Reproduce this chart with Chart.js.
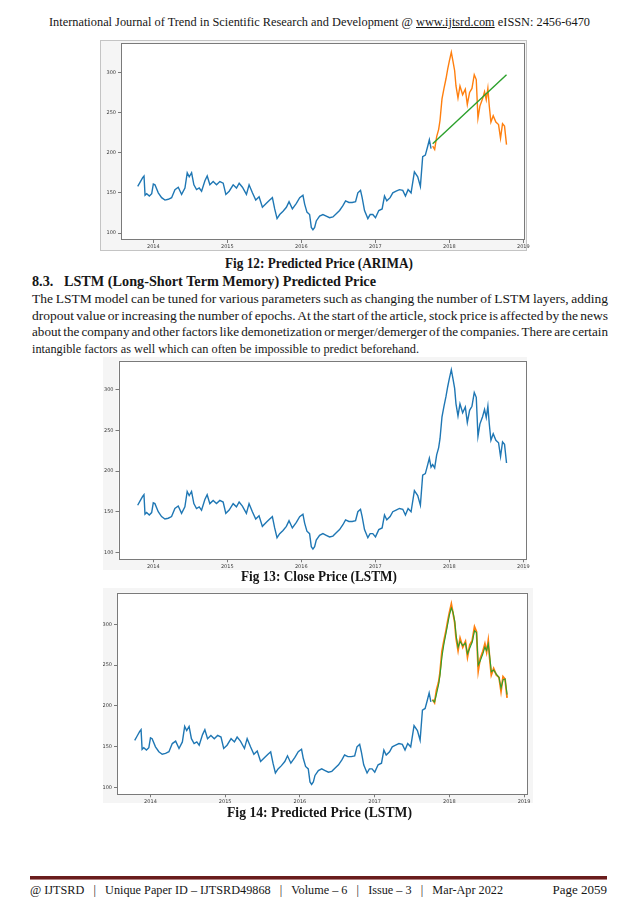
<!DOCTYPE html>
<html><head><meta charset="utf-8">
<script src="https://cdn.jsdelivr.net/npm/chart.js@4.4.1/dist/chart.umd.min.js"></script>
<style>
html,body{margin:0;padding:0;background:#fff;}
body{width:638px;height:903px;position:relative;overflow:hidden;font-family:"Liberation Serif","Times New Roman",serif;color:#161616;}
.t{position:absolute;white-space:nowrap;}
.t span{display:inline-block;transform-origin:0 50%;}
.fig{position:absolute;background:#f5f5f5;overflow:visible;}
.fig canvas{position:absolute;left:0;top:0;}
</style></head><body>

<div class="t" style="left:49px;top:14px;font-size:12.5px;line-height:16px" data-w="541" data-mode="scale"><span>International Journal of Trend in Scientific Research and Development @ <u>www.ijtsrd.com</u> eISSN: 2456-6470</span></div>

<div class="fig" style="left:101px;top:41px;width:425px;height:209px;box-shadow:0 0 0 1px #c4c4c4"><canvas id="c1" width="437" height="209"></canvas></div>

<div class="t" style="left:225px;top:254px;font-size:14.5px;line-height:18px;font-weight:bold" data-w="188" data-mode="scale"><span>Fig 12: Predicted Price (ARIMA)</span></div>

<div class="t" style="left:32px;top:273px;font-size:14px;line-height:18px;font-weight:bold" data-w="344" data-mode="scale"><span>8.3.&nbsp;&nbsp;&nbsp;LSTM (Long-Short Term Memory) Predicted Price</span></div>

<div class="t" style="left:32px;top:290px;font-size:13.5px;line-height:17px" data-w="576" data-mode="justify"><span>The LSTM model can be tuned for various parameters such as changing the number of LSTM layers, adding</span></div>
<div class="t" style="left:32px;top:306.5px;font-size:13.5px;line-height:17px" data-w="576" data-mode="justify"><span>dropout value or increasing the number of epochs. At the start of the article, stock price is affected by the news</span></div>
<div class="t" style="left:32px;top:323px;font-size:13.5px;line-height:17px" data-w="576" data-mode="justify"><span>about the company and other factors like demonetization or merger/demerger of the companies. There are certain</span></div>
<div class="t" style="left:32px;top:339.5px;font-size:13.5px;line-height:17px" data-w="387" data-mode="scale"><span>intangible factors as well which can often be impossible to predict beforehand.</span></div>

<div class="fig" style="left:103px;top:357px;width:424px;height:213px"><canvas id="c2" width="436" height="213"></canvas></div>

<div class="t" style="left:241px;top:567px;font-size:14.5px;line-height:18px;font-weight:bold" data-w="156" data-mode="scale"><span>Fig 13: Close Price (LSTM)</span></div>

<div class="fig" style="left:103px;top:588px;width:430px;height:215px"><canvas id="c3" width="442" height="215"></canvas></div>

<div class="t" style="left:227px;top:803px;font-size:14.5px;line-height:18px;font-weight:bold" data-w="185" data-mode="scale"><span>Fig 14: Predicted Price (LSTM)</span></div>

<div style="position:absolute;left:30px;top:876px;width:577px;height:3px;background:#6a1c1c"></div>
<div style="position:absolute;left:30px;top:879px;width:577px;height:1px;background:#b08080"></div>
<div class="t" style="left:30px;top:881px;font-size:13px;line-height:17px" data-w="473" data-mode="scale"><span>@ IJTSRD&nbsp;&nbsp;&nbsp;|&nbsp;&nbsp;&nbsp;Unique Paper ID – IJTSRD49868&nbsp;&nbsp;&nbsp;|&nbsp;&nbsp;&nbsp;Volume – 6&nbsp;&nbsp;&nbsp;|&nbsp;&nbsp;&nbsp;Issue – 3&nbsp;&nbsp;&nbsp;|&nbsp;&nbsp;&nbsp;Mar-Apr 2022</span></div>
<div class="t" style="right:31px;top:881px;font-size:13px;line-height:17px"><span>Page 2059</span></div>

<script>
// ---- data (decimal years, prices) ----
const xTicks = [2014, 2015, 2016, 2017, 2018, 2019];
const yTicks = [100, 150, 200, 250, 300];

const trainDates = [
  2013.789, 2013.820, 2013.856, 2013.874, 2013.888, 2013.910, 2013.946, 2013.978, 2014.000, 2014.022,
  2014.067, 2014.112, 2014.157, 2014.202, 2014.247, 2014.292, 2014.337, 2014.382, 2014.427, 2014.458,
  2014.485, 2014.517, 2014.548, 2014.584, 2014.620, 2014.652, 2014.697, 2014.728, 2014.764, 2014.809,
  2014.854, 2014.899, 2014.944, 2014.980, 2015.025, 2015.079, 2015.124, 2015.160, 2015.204, 2015.258,
  2015.294, 2015.339, 2015.384, 2015.429, 2015.474, 2015.528, 2015.573, 2015.609, 2015.640, 2015.672,
  2015.708, 2015.753, 2015.798, 2015.834, 2015.879, 2015.933, 2015.978, 2016.022, 2016.045, 2016.076,
  2016.112, 2016.135, 2016.157, 2016.180, 2016.202, 2016.247, 2016.292, 2016.337, 2016.382, 2016.427,
  2016.472, 2016.517, 2016.562, 2016.598, 2016.643, 2016.688, 2016.733, 2016.764, 2016.800, 2016.822,
  2016.854, 2016.899, 2016.930, 2016.966, 2017.002, 2017.047, 2017.092, 2017.124, 2017.155, 2017.200,
  2017.236, 2017.281, 2017.326, 2017.371, 2017.407, 2017.443, 2017.483, 2017.528, 2017.573, 2017.609,
  2017.640, 2017.676, 2017.708, 2017.730, 2017.753
];
const trainClose = [
  158, 163, 169, 171, 147, 149, 146, 149, 161, 160,
  150, 144, 141, 142, 144, 154, 157, 148, 156, 175,
  170, 175, 160, 154, 156, 152, 165, 171, 160, 164,
  160, 164, 162, 148, 152, 160, 156, 162, 157, 148,
  160, 150, 141, 145, 132, 137, 141, 144, 130, 118,
  123, 127, 132, 139, 130, 137, 144, 147, 136, 126,
  123, 107, 104, 107, 115, 121, 123, 121, 119, 120,
  124, 128, 134, 140, 138, 138, 139, 150, 153, 144,
  128, 118, 123, 123, 119, 128, 130, 146, 140, 144,
  150, 152, 154, 153, 146, 154, 150, 176, 170, 158,
  195, 197, 208, 216, 205
];
const testDates = [
  2017.775, 2017.802, 2017.829, 2017.856, 2017.874, 2017.901, 2017.928, 2017.955, 2017.978, 2018.000,
  2018.027, 2018.049, 2018.072, 2018.090, 2018.117, 2018.144, 2018.180, 2018.216, 2018.243, 2018.274,
  2018.306, 2018.337, 2018.364, 2018.387, 2018.413, 2018.449, 2018.476, 2018.499, 2018.521, 2018.539,
  2018.562, 2018.593, 2018.629, 2018.665, 2018.692, 2018.719, 2018.746, 2018.773
];
const testClose = [
  208, 204, 220, 229, 240, 267, 280, 292, 304, 314,
  325, 314, 302, 283, 268, 283, 272, 279, 260, 275,
  280, 297, 291, 243, 258, 267, 276, 266, 280, 259,
  238, 246, 238, 235, 218, 236, 233, 210
];
const lstmPred = [
  207, 205, 215, 226, 237, 260, 276, 289, 300, 311,
  320, 315, 304, 287, 272, 279, 274, 277, 264, 271,
  278, 292, 290, 250, 255, 264, 272, 268, 276, 262,
  242, 244, 239, 235, 222, 232, 233, 214
];
const arimaDates = [2017.775, 2018.773];
const arimaPred = [211, 297];

const BLUE = '#1f77b4', ORANGE = '#ff7f0e', GREEN = '#2ca02c';

function pts(d, v) { return d.map((x, i) => ({ x: x, y: v[i] })); }

const framePlugin = {
  id: 'frame',
  beforeDraw(c) {
    const a = c.chartArea, ctx = c.ctx;
    ctx.save(); ctx.fillStyle = '#ffffff';
    ctx.fillRect(a.left, a.top, a.right - a.left, a.bottom - a.top);
    ctx.restore();
  },
  afterDraw(c) {
    const a = c.chartArea, ctx = c.ctx;
    ctx.save(); ctx.strokeStyle = '#7a7a7a'; ctx.lineWidth = 1;
    ctx.strokeRect(Math.round(a.left) + 0.5, Math.round(a.top) + 0.5,
      Math.round(a.right - a.left) - 1, Math.round(a.bottom - a.top) - 1);
    ctx.restore();
  }
};

// order: higher numbers are drawn first (underneath), like matplotlib's plotting order
function line(data, color, order, w) {
  return { data: data, borderColor: color, borderWidth: w || 1.4, pointRadius: 0, tension: 0, fill: false, order: order };
}

function makeChart(id, o, datasets) {
  const tickFont = { size: 5, family: 'DejaVu Sans' };
  new Chart(document.getElementById(id), {
    type: 'line',
    data: { datasets: datasets },
    plugins: [framePlugin],
    options: {
      responsive: false, animation: false, devicePixelRatio: 1,
      layout: { padding: { left: 0, top: o.pt, right: o.pr, bottom: 0 } },
      plugins: { legend: { display: false }, tooltip: { enabled: false } },
      scales: {
        x: {
          type: 'linear', min: o.xmin, max: o.xmax,
          afterBuildTicks: s => { s.ticks = xTicks.map(v => ({ value: v })); },
          afterFit: s => { s.height = o.xh; s.paddingLeft = 0; s.paddingRight = 0; },
          ticks: { callback: v => String(v), font: tickFont, color: '#3a3a3a', padding: 1, maxRotation: 0, autoSkip: false },
          grid: { drawOnChartArea: false, drawTicks: true, tickLength: 3, color: '#7a7a7a' },
          border: { display: false }
        },
        y: {
          type: 'linear', min: o.ymin, max: o.ymax,
          afterBuildTicks: s => { s.ticks = yTicks.map(v => ({ value: v })); },
          afterFit: s => { s.width = o.yw; s.paddingTop = 0; s.paddingBottom = 0; },
          ticks: { callback: v => String(v), font: tickFont, color: '#3a3a3a', padding: 2, autoSkip: false },
          grid: { drawOnChartArea: false, drawTicks: true, tickLength: 3, color: '#7a7a7a' },
          border: { display: false }
        }
      }
    }
  });
}

// Fig 12: ARIMA
makeChart('c1', { pt: 2, pr: 13.5, yw: 20, xh: 10, xmin: 2013.563, xmax: 2019.016, ymin: 91.3, ymax: 336.5 }, [
  line(pts(trainDates, trainClose), BLUE, 3),
  line(pts(testDates, testClose), ORANGE, 2),
  line(pts(arimaDates, arimaPred), GREEN, 1)
]);

// Fig 13: close price
makeChart('c2', { pt: 3.7, pr: 13, yw: 15.5, xh: 10.7, xmin: 2013.530, xmax: 2019.036, ymin: 91.4, ymax: 336.1 }, [
  line(pts(trainDates.concat(testDates), trainClose.concat(testClose)), BLUE, 1)
]);

// Fig 14: LSTM prediction
makeChart('c3', { pt: 4.7, pr: 17.3, yw: 14, xh: 8.7, xmin: 2013.552, xmax: 2019.049, ymin: 91.9, ymax: 338.7 }, [
  line(pts(trainDates, trainClose), BLUE, 3),
  line(pts(testDates, testClose), ORANGE, 2, 1.8),
  line(pts(testDates, lstmPred), GREEN, 1, 1.1)
]);

// fit text lines to the widths measured on the page
function fitText() {
  document.querySelectorAll('.t[data-w]').forEach(el => {
    const span = el.firstElementChild;
    const target = parseFloat(el.dataset.w);
    const w = span.getBoundingClientRect().width;
    if (el.dataset.mode === 'justify') {
      const n = (span.textContent.match(/ /g) || []).length;
      const ws = (target - w) / n;
      if (ws >= -1.2) { span.style.wordSpacing = ws + 'px'; }
      else {
        span.style.wordSpacing = '-1.2px';
        const w2 = span.getBoundingClientRect().width;
        span.style.transform = 'scaleX(' + (target / w2) + ')';
      }
    } else {
      span.style.transform = 'scaleX(' + (target / w) + ')';
    }
  });
}
if (document.fonts && document.fonts.ready) document.fonts.ready.then(fitText); else fitText();
</script>
</body></html>
